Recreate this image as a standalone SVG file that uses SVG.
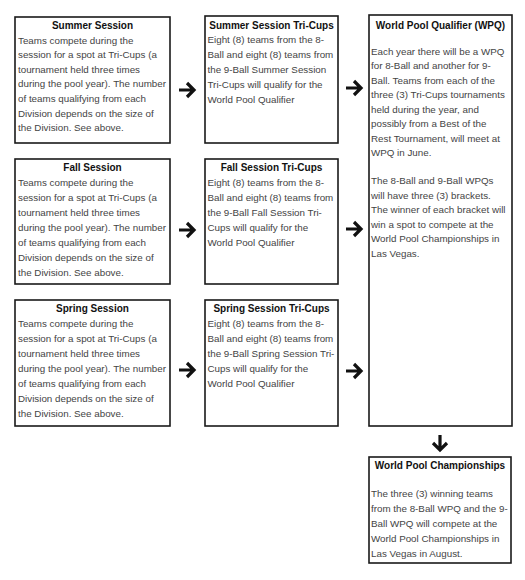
<svg xmlns="http://www.w3.org/2000/svg" width="525" height="580" viewBox="0 0 525 580">
<style>
.box{fill:#fff;stroke:#1a1a1a;stroke-width:1.6}
.t{font-family:"Liberation Sans",Arial,sans-serif;font-size:10px;font-weight:bold;fill:#111;text-anchor:middle}
.b{font-family:"Liberation Sans",Arial,sans-serif;font-size:9.8px;fill:#444}
.arr{fill:none;stroke:#111;stroke-width:3.2;stroke-linecap:butt;stroke-linejoin:miter}
</style>
<rect width="525" height="580" fill="#fff"/>
<g id="summer-session">
<rect class="box" x="15" y="17" width="155" height="126"/>
<text class="t" x="92.5" y="29">Summer Session</text>
<text class="b" x="18" y="43.5">Teams compete during the</text>
<text class="b" x="18" y="58.1">session for a spot at Tri-Cups (a</text>
<text class="b" x="18" y="72.7">tournament held three times</text>
<text class="b" x="18" y="87.3">during the pool year). The number</text>
<text class="b" x="18" y="101.9">of teams qualifying from each</text>
<text class="b" x="18" y="116.5">Division depends on the size of</text>
<text class="b" x="18" y="131.1">the Division. See above.</text>
</g>
<g id="fall-session">
<rect class="box" x="15" y="159" width="155" height="125"/>
<text class="t" x="92.5" y="171">Fall Session</text>
<text class="b" x="18" y="185.5">Teams compete during the</text>
<text class="b" x="18" y="200.6">session for a spot at Tri-Cups (a</text>
<text class="b" x="18" y="215.7">tournament held three times</text>
<text class="b" x="18" y="230.8">during the pool year). The number</text>
<text class="b" x="18" y="245.9">of teams qualifying from each</text>
<text class="b" x="18" y="261">Division depends on the size of</text>
<text class="b" x="18" y="276.1">the Division. See above.</text>
</g>
<g id="spring-session">
<rect class="box" x="15" y="300" width="155" height="126"/>
<text class="t" x="92.5" y="312">Spring Session</text>
<text class="b" x="18" y="326.5">Teams compete during the</text>
<text class="b" x="18" y="341.5">session for a spot at Tri-Cups (a</text>
<text class="b" x="18" y="356.5">tournament held three times</text>
<text class="b" x="18" y="371.5">during the pool year). The number</text>
<text class="b" x="18" y="386.5">of teams qualifying from each</text>
<text class="b" x="18" y="401.5">Division depends on the size of</text>
<text class="b" x="18" y="416.5">the Division. See above.</text>
</g>
<g id="summer-tricups">
<rect class="box" x="205" y="16" width="133" height="127"/>
<text class="t" x="271.5" y="29">Summer Session Tri-Cups</text>
<text class="b" x="207.5" y="43">Eight (8) teams from the 8-</text>
<text class="b" x="207.5" y="58">Ball and eight (8) teams from</text>
<text class="b" x="207.5" y="73">the 9-Ball Summer Session</text>
<text class="b" x="207.5" y="88">Tri-Cups will qualify for the</text>
<text class="b" x="207.5" y="103">World Pool Qualifier</text>
</g>
<g id="fall-tricups">
<rect class="box" x="205" y="159" width="133" height="125"/>
<text class="t" x="271.5" y="171">Fall Session Tri-Cups</text>
<text class="b" x="207.5" y="185.5">Eight (8) teams from the 8-</text>
<text class="b" x="207.5" y="200.5">Ball and eight (8) teams from</text>
<text class="b" x="207.5" y="215.5">the 9-Ball Fall Session Tri-</text>
<text class="b" x="207.5" y="230.5">Cups will qualify for the</text>
<text class="b" x="207.5" y="245.5">World Pool Qualifier</text>
</g>
<g id="spring-tricups">
<rect class="box" x="205" y="300" width="133" height="126"/>
<text class="t" x="271.5" y="312">Spring Session Tri-Cups</text>
<text class="b" x="207.5" y="326.5">Eight (8) teams from the 8-</text>
<text class="b" x="207.5" y="341.5">Ball and eight (8) teams from</text>
<text class="b" x="207.5" y="356.5">the 9-Ball Spring Session Tri-</text>
<text class="b" x="207.5" y="371.5">Cups will qualify for the</text>
<text class="b" x="207.5" y="386.5">World Pool Qualifier</text>
</g>
<g id="wpq">
<rect class="box" x="369" y="15" width="143" height="411"/>
<text class="t" x="440.5" y="29">World Pool Qualifier (WPQ)</text>
<text class="b" x="371" y="54.5">Each year there will be a WPQ</text>
<text class="b" x="371" y="69">for 8-Ball and another for 9-</text>
<text class="b" x="371" y="83.5">Ball. Teams from each of the</text>
<text class="b" x="371" y="98">three (3) Tri-Cups tournaments</text>
<text class="b" x="371" y="112.5">held during the year, and</text>
<text class="b" x="371" y="127">possibly from a Best of the</text>
<text class="b" x="371" y="141.5">Rest Tournament, will meet at</text>
<text class="b" x="371" y="156">WPQ in June.</text>
<text class="b" x="371" y="184">The 8-Ball and 9-Ball WPQs</text>
<text class="b" x="371" y="198.5">will have three (3) brackets.</text>
<text class="b" x="371" y="213">The winner of each bracket will</text>
<text class="b" x="371" y="227.5">win a spot to compete at the</text>
<text class="b" x="371" y="242">World Pool Championships in</text>
<text class="b" x="371" y="256.5">Las Vegas.</text>
</g>
<g id="wpc">
<rect class="box" x="369" y="457" width="142" height="106"/>
<text class="t" x="440" y="469">World Pool Championships</text>
<text class="b" x="371" y="496.5">The three (3) winning teams</text>
<text class="b" x="371" y="511.5">from the 8-Ball WPQ and the 9-</text>
<text class="b" x="371" y="526.5">Ball WPQ will compete at the</text>
<text class="b" x="371" y="541.5">World Pool Championships in</text>
<text class="b" x="371" y="556.5">Las Vegas in August.</text>
</g>
<g id="connectors">
<path class="arr" d="M179,90H194M187,83L194,90L187,97"/>
<path class="arr" d="M179,230H194M187,223L194,230L187,237"/>
<path class="arr" d="M179,370H194M187,363L194,370L187,377"/>
<path class="arr" d="M346,88H361M354,81L361,88L354,95"/>
<path class="arr" d="M346,229H361M354,222L361,229L354,236"/>
<path class="arr" d="M346,371H361M354,364L361,371L354,378"/>
<path class="arr" d="M440,435V450M433,443L440,450L447,443"/>
</g>
</svg>
